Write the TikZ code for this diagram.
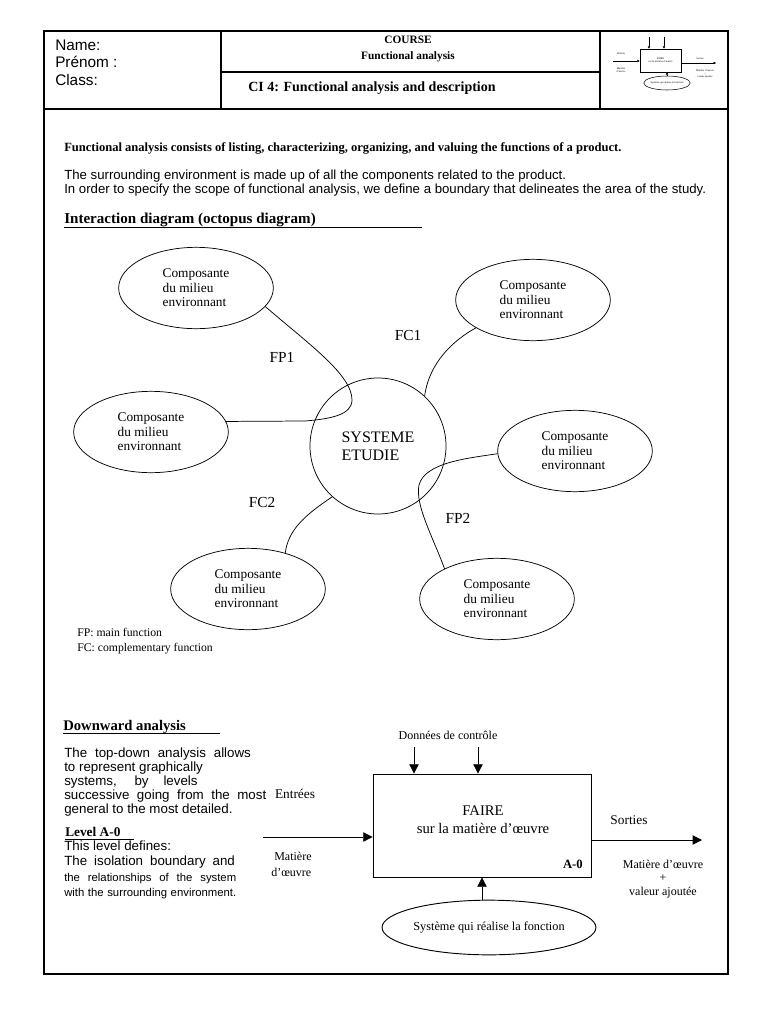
\documentclass[tikz,border=0pt]{standalone}
\usepackage{fontspec}
\setmainfont{Liberation Serif}
\newfontfamily\arial{Liberation Sans}
\usetikzlibrary{shapes.geometric,arrows.meta}
\begin{document}
\begin{tikzpicture}[x=0.75pt,y=-0.75pt,inner sep=0pt,
  frameline/.style={line width=1.6pt},
  comp/.style={ellipse,draw,line width=0.55pt,minimum width=116pt,minimum height=61pt,inner sep=0pt,align=left,font=\fontsize{10}{10.9}\selectfont},
  lbl/.style={font=\fontsize{11.5}{13}\selectfont},
  conn/.style={line width=0.55pt},
  arr/.style={line width=0.6pt,-{Triangle[length=7pt,width=7pt]}},
  tarr/.style={line width=0.35pt,-{Triangle[length=1.8pt,width=1.8pt]}},
  headtxt/.style={anchor=base west,font=\arial\fontsize{11.5}{11}\selectfont},
  arialtxt/.style={anchor=base west,font=\arial\fontsize{9.9}{11}\selectfont},
  paratxt/.style={anchor=base west,font=\arial\fontsize{10}{11}\selectfont},
  smalltxt/.style={anchor=base west,font=\arial\fontsize{8.5}{10}\selectfont},
  tiny/.style={font=\fontsize{2}{2.4}\selectfont,align=center}
]
\fill[white] (0,0) rectangle (768,1024);
\useasboundingbox (0,0) rectangle (768,1024);

% frame and header
\draw[frameline] (44,31) rectangle (728,974);
\draw[frameline] (44,109) -- (728,109);
\draw[frameline] (221,31) -- (221,109);
\draw[frameline] (600,31) -- (600,109);
\draw[frameline] (221,72) -- (600,72);

\node[headtxt] (name) at (55,51) {Name:};
\node[headtxt] (prenom) at (55,68) {Prénom :};
\node[headtxt] (class) at (55,85) {Class:};
\node[anchor=base,font=\bfseries\fontsize{8.5}{10}\selectfont] (course) at (408,44) {COURSE};
\node[anchor=base,font=\bfseries\fontsize{8.5}{10}\selectfont] (fa) at (408,60) {Functional analysis};
\node[anchor=base west,font=\bfseries\fontsize{10.5}{12}\selectfont] (ci) at (248,91) {CI 4: Functional analysis and description};

% thumbnail
\node[draw,line width=0.45pt,minimum width=30.75pt,minimum height=17.25pt,tiny] (tbox) at (660.5,60.5) {FAIRE\\sur la matière d'œuvre};
\coordinate (tc1) at (649,37);
\coordinate (tc2) at (664,37);
\draw[tarr] (tc1) -- (tc1 |- tbox.north);
\draw[tarr] (tc2) -- (tc2 |- tbox.north);
\coordinate (tin) at (613,61);
\draw[tarr] (tin) -- (tin -| tbox.west);
\coordinate (tout) at (716,63);
\draw[tarr] (tout -| tbox.east) -- (tout);
\node[ellipse,draw,line width=0.4pt,minimum width=31.5pt,minimum height=10.5pt,tiny] (tsys) at (667,83) {Système qui réalise la fonction};
\draw[tarr] (tsys.north) -- (tsys.north |- tbox.south);
\node[tiny] (tent) at (621,54) {Entrées};
\node[tiny] (tmat) at (621,70) {Matière\\d'œuvre};
\node[tiny] (tsor) at (700,59) {Sorties};
\node[tiny] (tmo) at (705,74) {Matière d'œuvre\\+\\valeur ajoutée};

% intro text
\node[anchor=base west,font=\bfseries\fontsize{9.4}{11}\selectfont] (intro) at (64,151) {Functional analysis consists of listing, characterizing, organizing, and valuing the functions of a product.};
\node[arialtxt] (env1) at (64,179) {The surrounding environment is made up of all the components related to the product.};
\node[arialtxt] (env2) at (64,193) {In order to specify the scope of functional analysis, we define a boundary that delineates the area of the study.};
\node[anchor=base west,font=\bfseries\fontsize{11.3}{13}\selectfont] (inter) at (64,223) {Interaction diagram (octopus diagram)};
\draw[line width=0.6pt] (64,227) -- (422,227);

% octopus diagram
\node[comp] (tl) at (196,288) {Composante\\du milieu\\environnant};
\node[comp] (tr) at (533,300) {Composante\\du milieu\\environnant};
\node[comp] (lf) at (151,432) {Composante\\du milieu\\environnant};
\node[comp] (rt) at (575,451) {Composante\\du milieu\\environnant};
\node[comp] (bl) at (248,589) {Composante\\du milieu\\environnant};
\node[comp] (br) at (497,599) {Composante\\du milieu\\environnant};
\node[circle,draw,line width=0.55pt,minimum size=102pt,align=left,font=\fontsize{12}{13.5}\selectfont] (sys) at (378,446) {SYSTEME\\ETUDIE};

\draw[conn] (tl.-15) .. controls (310,345) and (352,375) .. (352,400) .. controls (352,415) and (330,419) .. (305,421) -- (lf.8);
\draw[conn] (sys.47) .. controls (428,370) and (445,345) .. (tr.206);
\draw[conn] (sys.228) .. controls (305,515) and (288,530) .. (bl.44);
\draw[conn] (rt.182) .. controls (470,458) and (425,462) .. (419,485) .. controls (415,505) and (432,535) .. (br.150);

\node[lbl] (fp1) at (282,357) {FP1};
\node[lbl] (fc1) at (408,335) {FC1};
\node[lbl] (fc2) at (262,502) {FC2};
\node[lbl] (fp2) at (458,518) {FP2};

\node[anchor=base west,font=\fontsize{8.8}{10}\selectfont] (leg1) at (77,636) {FP: main function};
\node[anchor=base west,font=\fontsize{8.8}{10}\selectfont] (leg2) at (77,651) {FC: complementary function};

% downward analysis
\node[anchor=base west,font=\bfseries\fontsize{11}{12}\selectfont] (down) at (63,730) {Downward analysis};
\draw[line width=0.6pt] (63,733) -- (220,733);
\node[paratxt] (p1) at (64,757) {\makebox[140pt][s]{The top-down analysis allows}};
\node[paratxt] (p2) at (64,771) {\makebox[104pt][s]{to represent graphically}};
\node[paratxt] (p3) at (64,785) {\makebox[100pt][s]{systems, by levels}};
\node[paratxt] (p4) at (64,799) {\makebox[151.5pt][s]{successive going from the most}};
\node[paratxt] (p5) at (64,813) {general to the most detailed.};

\node[anchor=base west,font=\bfseries\fontsize{10}{12}\selectfont] (lvl) at (65,836) {Level A-0};
\draw[line width=0.6pt] (65,839) -- (134,839);
\node[paratxt] (def) at (64,850) {This level defines:};
\node[paratxt] (iso) at (64,865) {\makebox[128pt][s]{The isolation boundary and}};
\node[smalltxt] (rel) at (64,881) {\makebox[129pt][s]{the relationships of the system}};
\node[smalltxt] (wit) at (64,896) {\makebox[129pt][s]{with the surrounding environment.}};

% A-0 diagram
\node[draw,line width=0.6pt,minimum width=163.5pt,minimum height=77.25pt] (box) at (482,825.5) {};
\node[align=center,font=\fontsize{11}{13.5}\selectfont] (faire) at (483,820) {FAIRE\\sur la matière d'œuvre};
\node[anchor=base east,font=\bfseries\fontsize{9.5}{11}\selectfont] (a0) at (583,868) {A-0};
\node[font=\fontsize{9}{11}\selectfont] (donnees) at (448,735) {Données de contrôle};
\coordinate (c1) at (414,747);
\coordinate (c2) at (478,747);
\draw[arr] (c1) -- (c1 |- box.north);
\draw[arr] (c2) -- (c2 |- box.north);
\coordinate (inp) at (263,837);
\draw[arr] (inp) -- (inp -| box.west);
\node[font=\fontsize{10}{12}\selectfont] (entrees) at (295,794) {Entrées};
\node[anchor=west,align=left,font=\fontsize{9}{12}\selectfont] (matin) at (271,864) {\ Matière\\d'œuvre};
\coordinate (outp) at (702,840);
\draw[arr] (outp -| box.east) -- (outp);
\node[font=\fontsize{10}{12}\selectfont] (sorties) at (629,820) {Sorties};
\node[align=center,font=\fontsize{9}{10.2}\selectfont] (matout) at (663,879) {Matière d'œuvre\\+\\valeur ajoutée};
\node[ellipse,draw,line width=0.7pt,minimum width=138pt,minimum height=41pt,font=\fontsize{9.2}{11}\selectfont] (sysf) at (489,927.5) {Système qui réalise la fonction};
\draw[arr] (sysf.north -| box.south) -- (box.south);
\end{tikzpicture}
\end{document}
